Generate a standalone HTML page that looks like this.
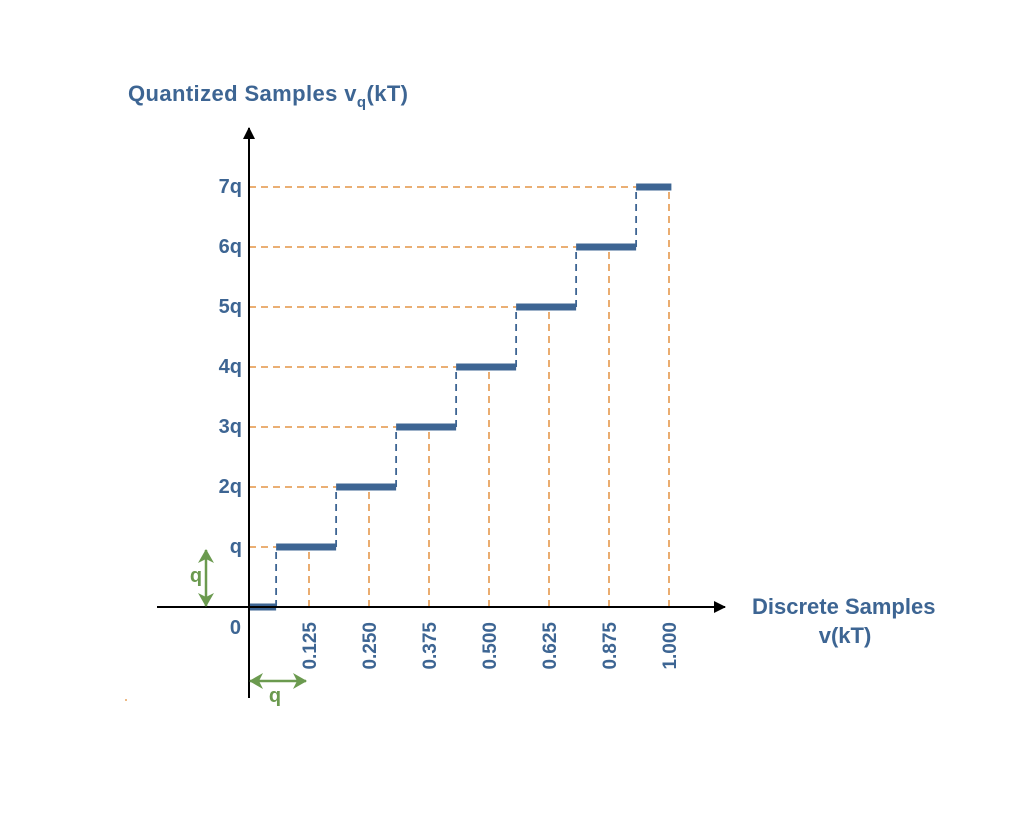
<!DOCTYPE html>
<html><head><meta charset="utf-8"><style>
body{margin:0;background:#fff;}
svg text{font-family:"Liberation Sans",Arial,sans-serif;font-weight:bold;fill:#3d6593;}
</style></head><body>
<svg width="1024" height="832" viewBox="0 0 1024 832">
<defs>
<marker id="ah" markerWidth="12" markerHeight="12" refX="11" refY="6" orient="auto" markerUnits="userSpaceOnUse"><path d="M0,0 L12,6 L0,12 z" fill="#000"/></marker>
<marker id="ga" markerWidth="16" markerHeight="16" refX="13" refY="8" orient="auto-start-reverse" markerUnits="userSpaceOnUse"><path d="M0,0 L14,8 L0,16 L4,8 z" fill="#6b9a4f"/></marker>
</defs>
<g id="guides"></g>
<g id="marks"></g>
<line x1="157" y1="607" x2="725" y2="607" stroke="#000" stroke-width="2" marker-end="url(#ah)"/>
<line x1="249" y1="698" x2="249" y2="128" stroke="#000" stroke-width="2" marker-end="url(#ah)"/>
<text x="128" y="101" font-size="22" letter-spacing="0.4">Quantized Samples v<tspan font-size="15" dy="6">q</tspan><tspan dy="-6">(kT)</tspan></text>
<text x="752" y="614" font-size="22">Discrete Samples</text>
<text x="845" y="643" font-size="22" text-anchor="middle">v(kT)</text>
<text x="241" y="634" font-size="20" text-anchor="end">0</text>
<g id="ylabels"></g><g id="xlabels"></g>
<line x1="206" y1="550" x2="206" y2="606" stroke="#6b9a4f" stroke-width="2.5" marker-start="url(#ga)" marker-end="url(#ga)"/>
<text x="196" y="582" font-size="20" text-anchor="middle" style="fill:#6b9a4f">q</text>
<line x1="250" y1="681" x2="306" y2="681" stroke="#6b9a4f" stroke-width="2.5" marker-start="url(#ga)" marker-end="url(#ga)"/>
<text x="275" y="702" font-size="20" text-anchor="middle" style="fill:#6b9a4f">q</text>
<circle cx="126" cy="700" r="1" fill="#e8a460"/>
</svg>
<script>
const levels=[0,1,2,3,4,5,6,7];
const levelLabels=["","q","2q","3q","4q","5q","6q","7q"];
const sampleValues=[0.125,0.25,0.375,0.5,0.625,0.75,0.875];
const tickLabels=["0.125","0.250","0.375","0.500","0.625","0.875","1.000"];
const sampleLevels=[1,2,3,4,5,6,7];
const X=v=>249+v*480, Y=l=>607-l*60;
const NS="http://www.w3.org/2000/svg";
function mk(p,t,a){const e=document.createElementNS(NS,t);for(const k in a)e.setAttribute(k,a[k]);document.getElementById(p).appendChild(e);return e;}
levels.forEach((l,k)=>{
  const x0=k===0?0:(k-0.5)*0.125-0.006, x1=Math.min((k+0.5)*0.125-0.006,0.88);
  if(k>0){
    const g=mk('guides','line',{x1:249,y1:Y(l),x2:X(x0),y2:Y(l),stroke:'#e8a460','stroke-width':1.8,'stroke-dasharray':'7,5'});
    
    
    const c=mk('guides','line',{x1:X(x0),y1:Y(l-1),x2:X(x0),y2:Y(l),stroke:'#3d6593','stroke-width':1.8,'stroke-dasharray':'7,5'});
    
    
    const t=mk('ylabels','text',{x:242,y:Y(l)+6,'font-size':20,'text-anchor':'end'});
    t.textContent=levelLabels[k];
    
    
  }
  const b=mk('marks','line',{x1:X(x0),y1:Y(l),x2:X(x1),y2:Y(l),stroke:'#3d6593','stroke-width':7});
  
  
});
sampleValues.forEach((v,i)=>{
  const g=mk('guides','line',{x1:X(v),y1:607,x2:X(v),y2:Y(sampleLevels[i])+4,stroke:'#e8a460','stroke-width':1.8,'stroke-dasharray':'7,5'});
  
  
  const t=mk('xlabels','text',{x:0,y:0,'font-size':19,'text-anchor':'end',transform:`translate(${X(v)+7},622) rotate(-90)`});
  t.textContent=tickLabels[i];
  
  
});
</script>
</body></html>
